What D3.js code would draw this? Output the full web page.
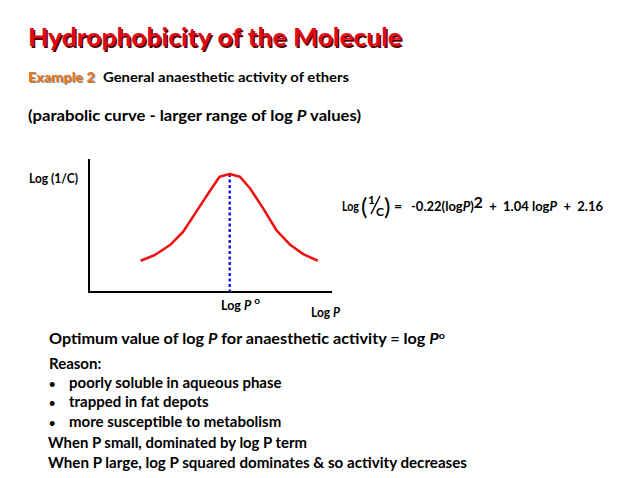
<!DOCTYPE html>
<html lang="en">
  <head>
    <meta charset="UTF-8" />
    <title>Hydrophobicity of the Molecule</title>
    <script src="https://d3js.org/d3.v7.min.js"></script>
    <style>
      body { margin: 0; background: #fff; }
      svg { display: block; font-family: Lato, "Open Sans", sans-serif; font-weight: bold; }
    </style>
  </head>
  <body>
    <svg width="638" height="478" viewBox="0 0 638 478"></svg>
    <script>
      // curve (arbitrary units)
      const logP = [5.1, 6.5, 8.0, 9.3, 10.6, 12.0, 12.9, 13.9, 14.9, 15.9, 17.2, 18.5, 19.9, 21.2, 22.6];
      const activity = [2.35, 2.78, 3.53, 4.53, 6.04, 7.67, 8.67, 8.87, 8.67, 7.8, 6.29, 4.66, 3.53, 2.83, 2.35];
      const optimumLogP = 13.9;

      const bullets = [
        "poorly soluble in aqueous phase",
        "trapped in fat depots",
        "more susceptible to metabolism"
      ];

      let svg = d3.select("svg");

      // Title + subtitles
      let title = svg.append("g");
      title.append("text").attr("x", 29.5).attr("y", 47.5)
        .attr("font-size", 25.5).attr("fill", "#5a0000")
        .attr("textLength", 374).attr("lengthAdjust", "spacingAndGlyphs")
        .text("Hydrophobicity of the Molecule");
      title.append("text").attr("x", 28).attr("y", 46)
        .attr("font-size", 25.5).attr("fill", "#e30613")
        .attr("textLength", 374).attr("lengthAdjust", "spacingAndGlyphs")
        .text("Hydrophobicity of the Molecule");

      svg.append("text").attr("x", 29).attr("y", 82.5)
        .attr("font-size", 13.5).attr("fill", "#8a8a8a")
        .attr("textLength", 67).attr("lengthAdjust", "spacingAndGlyphs")
        .text("Example 2");
      svg.append("text").attr("x", 28).attr("y", 81.5)
        .attr("font-size", 13.5).attr("fill", "#e8700c")
        .attr("textLength", 67).attr("lengthAdjust", "spacingAndGlyphs")
        .text("Example 2");
      svg.append("text").attr("x", 103).attr("y", 81.5)
        .attr("font-size", 13.5).attr("fill", "#000")
        .attr("textLength", 246).attr("lengthAdjust", "spacingAndGlyphs")
        .text("General anaesthetic activity of ethers");

      let sub = svg.append("text").attr("x", 28).attr("y", 121)
        .attr("font-size", 16).attr("fill", "#000")
        .attr("textLength", 333).attr("lengthAdjust", "spacingAndGlyphs");
      sub.append("tspan").text("(parabolic curve - larger range of log ");
      sub.append("tspan").attr("font-style", "italic").text("P");
      sub.append("tspan").text(" values)");

      // Plot
      let x = d3.scaleLinear().domain([0, 24]).range([89, 332]);
      let y = d3.scaleLinear().domain([0, 10]).range([292, 159]);

      svg.append("path")
        .attr("d", d3.line()([[x(0), y(10)], [x(0), y(0)], [x(24), y(0)]]))
        .attr("fill", "none").attr("stroke", "#000").attr("stroke-width", 2);

      svg.append("line")
        .attr("x1", x(optimumLogP)).attr("x2", x(optimumLogP))
        .attr("y1", y(d3.max(activity))).attr("y2", y(0))
        .attr("stroke", "#1c1cd0").attr("stroke-width", 2.5)
        .attr("stroke-dasharray", "3,2.5");

      svg.append("path")
        .datum(logP.map((d, i) => [d, activity[i]]))
        .attr("d", d3.line().x(d => x(d[0])).y(d => y(d[1])))
        .attr("fill", "none").attr("stroke", "#ee1111")
        .attr("stroke-width", 2.5).attr("stroke-linejoin", "round");

      svg.append("text").attr("x", 29).attr("y", 183)
        .attr("font-size", 12.5).attr("textLength", 49).attr("lengthAdjust", "spacingAndGlyphs")
        .text("Log (1/C)");

      let lp0 = svg.append("text").attr("x", 221).attr("y", 310).attr("font-size", 12.5);
      lp0.append("tspan").text("Log ");
      lp0.append("tspan").attr("font-style", "italic").text("P");
      lp0.append("tspan").attr("dx", 3).attr("dy", -6).attr("font-size", 10).text("o");

      let lp = svg.append("text").attr("x", 311).attr("y", 317).attr("font-size", 12.5)
        .attr("textLength", 29).attr("lengthAdjust", "spacingAndGlyphs");
      lp.append("tspan").text("Log ");
      lp.append("tspan").attr("font-style", "italic").text("P");

      // Equation
      let eq = svg.append("g").attr("font-size", 12.5);
      eq.append("text").attr("x", 342).attr("y", 211)
        .attr("textLength", 17).attr("lengthAdjust", "spacingAndGlyphs").text("Log");
      eq.append("text").attr("x", 361).attr("y", 215).attr("font-size", 24)
        .attr("font-weight", "normal").text("(");
      eq.append("text").attr("x", 368).attr("y", 204).attr("font-size", 12).text("1");
      eq.append("line").attr("x1", 371).attr("y1", 214).attr("x2", 380).attr("y2", 196)
        .attr("stroke", "#000").attr("stroke-width", 1.4);
      eq.append("text").attr("x", 376).attr("y", 216).attr("font-size", 12).text("C");
      eq.append("text").attr("x", 384).attr("y", 215).attr("font-size", 24)
        .attr("font-weight", "normal").text(")");
      eq.append("text").attr("x", 394).attr("y", 211).attr("font-size", 14).text("=");
      let rhs = eq.append("text").attr("x", 411).attr("y", 211)
        .style("white-space", "pre")
        .attr("textLength", 192).attr("lengthAdjust", "spacingAndGlyphs");
      rhs.append("tspan").text("-0.22(log");
      rhs.append("tspan").attr("font-style", "italic").text("P");
      rhs.append("tspan").text(")");
      rhs.append("tspan").attr("dy", -3).attr("font-size", 15).text("2");
      rhs.append("tspan").attr("dy", 3).text("  +  1.04 log");
      rhs.append("tspan").attr("font-style", "italic").text("P");
      rhs.append("tspan").text("  +  2.16");

      // Notes
      let notes = svg.append("g").attr("font-size", 15);
      let opt = notes.append("text").attr("x", 49).attr("y", 344)
        .attr("textLength", 396).attr("lengthAdjust", "spacingAndGlyphs");
      opt.append("tspan").text("Optimum value of log ");
      opt.append("tspan").attr("font-style", "italic").text("P");
      opt.append("tspan").text(" for anaesthetic activity = log ");
      opt.append("tspan").attr("font-style", "italic").text("P");
      opt.append("tspan").attr("font-size", 10).attr("dy", -5).text("o");

      notes.append("text").attr("x", 49).attr("y", 369).text("Reason:");
      notes.selectAll(".bul").data(bullets).enter().append("text")
        .attr("x", 49).attr("y", (d, i) => 388 + i * 19.3)
        .attr("font-size", 11).text("•");
      notes.selectAll(".btxt").data(bullets).enter().append("text")
        .attr("x", 69).attr("y", (d, i) => 388 + i * 19.3).text(d => d);

      notes.append("text").attr("x", 48).attr("y", 448)
        .attr("textLength", 259).attr("lengthAdjust", "spacingAndGlyphs")
        .text("When P small, dominated by log P term");
      notes.append("text").attr("x", 48).attr("y", 468)
        .attr("textLength", 419).attr("lengthAdjust", "spacingAndGlyphs")
        .text("When P large, log P squared dominates & so activity decreases");
    </script>
  </body>
</html>
